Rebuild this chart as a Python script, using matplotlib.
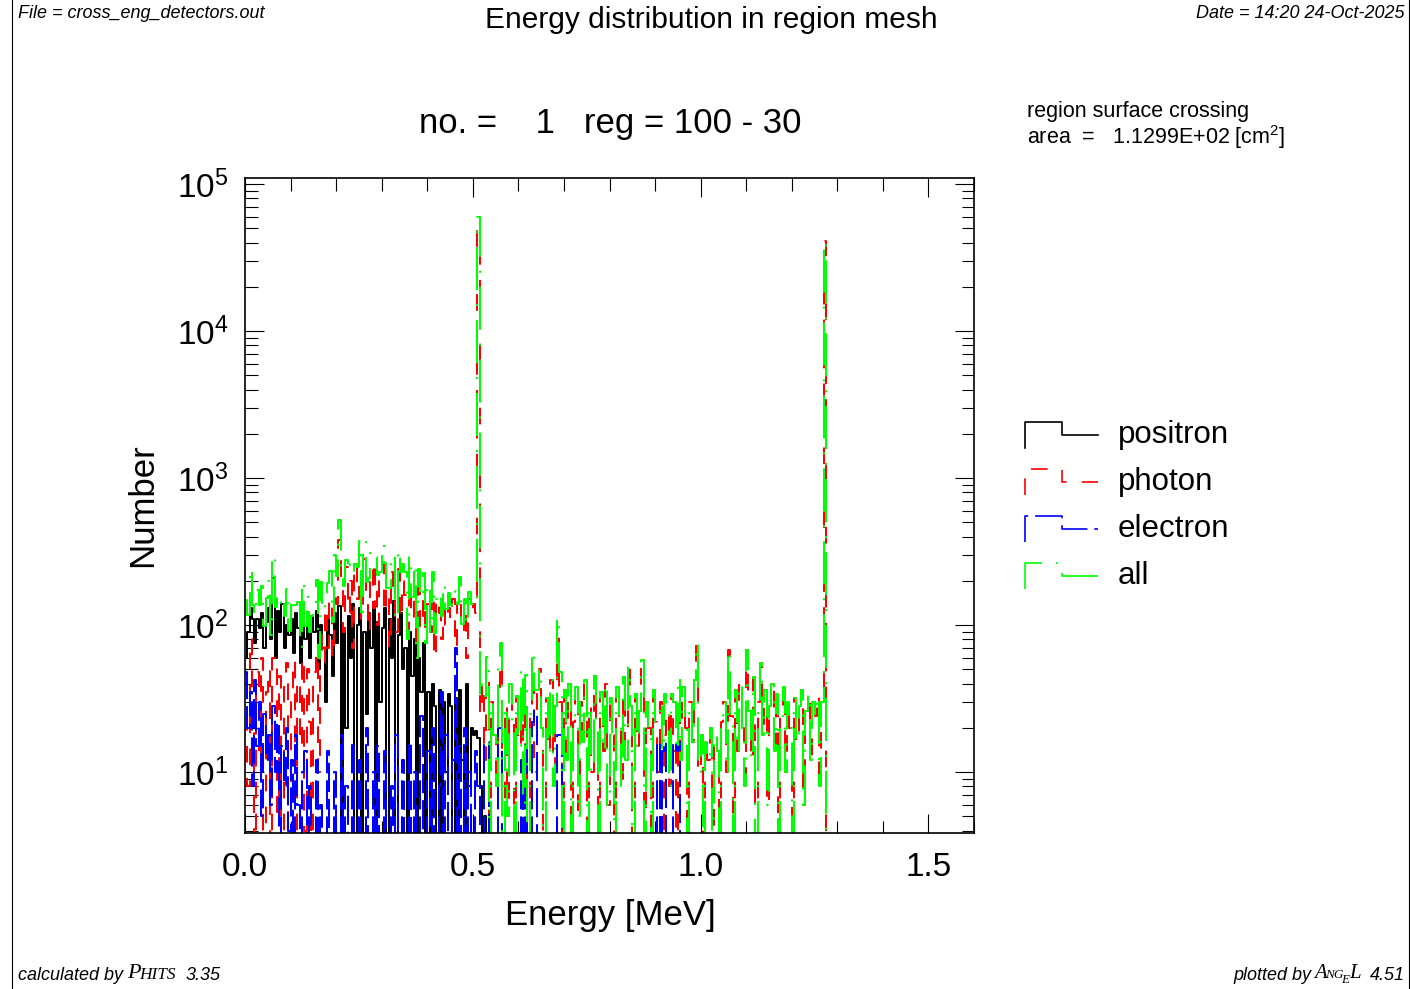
import matplotlib
matplotlib.use("Agg")
import matplotlib.pyplot as plt
import numpy as np
from matplotlib.ticker import FixedLocator, MultipleLocator, LogLocator, NullFormatter

plt.rcParams["font.family"] = ["Liberation Sans", "DejaVu Sans"]
plt.rcParams["mathtext.fontset"] = "custom"
plt.rcParams["mathtext.rm"] = "Liberation Sans"
plt.rcParams["mathtext.it"] = "Liberation Sans:italic"
plt.rcParams["lines.scale_dashes"] = False

# energy bins: 0 - 1.28 MeV, 0.005 MeV wide
BIN_WIDTH = 0.005
N_BINS = 256
edges = np.arange(N_BINS + 1) * BIN_WIDTH

# counts per bin (one row = 0.05 MeV)
positron = [
    60, 90, 130, 110, 75, 110, 95, 120, 70, 105,
    130, 80, 210, 60, 125, 90, 140, 70, 100, 85,
    110, 65, 120, 95, 55, 130, 80, 105, 60, 115,
    90, 125, 50, 100, 70, 30, 110, 85, 45, 120,
    75, 135, 0, 95, 20, 115, 60, 140, 0, 100,
    130, 0, 90, 25, 120, 70, 140, 0, 105, 30,
    95, 130, 0, 110, 60, 145, 0, 85, 120, 50,
    70, 0, 90, 45, 80, 0, 60, 35, 75, 0,
    35, 0, 40, 28, 0, 36, 0, 30, 10, 34,
    28, 0, 32, 0, 36, 12, 0, 40, 8, 20,
    18, 19, 17, 8, 0, 5, 0, 0, 0, 0,
] + [0] * 146

photon = [
    40, 8, 80, 20, 0, 48, 12, 60, 3, 35,
    50, 0, 60, 62, 5, 45, 0, 38, 55, 2,
    30, 58, 0, 42, 15, 60, 4, 50, 22, 0,
    48, 65, 10, 90, 55, 130, 70, 150, 60, 170,
    140, 380, 210, 90, 250, 120, 200, 70, 260, 150,
    230, 110, 280, 150, 90, 240, 130, 290, 100, 200,
    260, 120, 180, 70, 230, 150, 90, 240, 110, 200,
    160, 80, 190, 110, 170, 60, 180, 95, 150, 75,
    140, 90, 170, 60, 150, 120, 80, 160, 100, 130,
    110, 150, 70, 140, 160, 90, 130, 60, 150, 120,
    140, 120, 60000, 25, 40, 12, 45, 0, 30, 18,
    8, 35, 55, 0, 28, 5, 40, 22, 0, 33,
    15, 38, 6, 30, 0, 25, 45, 10, 36, 50,
    20, 0, 32, 14, 42, 8, 28, 95, 30, 0,
    36, 12, 40, 0, 22, 38, 5, 30, 16, 42,
    0, 28, 10, 45, 20, 0, 35, 14, 40, 6,
    32, 18, 0, 38, 24, 8, 44, 12, 52, 28,
    0, 34, 15, 26, 58, 4, 30, 20, 0, 36,
    22, 10, 30, 0, 18, 26, 8, 34, 14, 0,
    28, 12, 38, 20, 0, 30, 16, 42, 75, 10,
    18, 0, 16, 12, 20, 4, 18, 14, 0, 22,
    30, 10, 68, 24, 0, 36, 14, 40, 20, 8,
    68, 26, 12, 44, 0, 30, 55, 18, 36, 6,
    28, 40, 14, 34, 0, 24, 38, 10, 30, 20,
    0, 32, 16, 28, 36, 6, 26, 34, 12, 30,
    24, 33, 8, 30, 41000, 0,
]

electron = [
    48, 20, 35, 8, 42, 15, 30, 5, 25, 12,
    18, 6, 28, 10, 22, 0, 15, 8, 20, 4,
    12, 0, 18, 6, 0, 10, 14, 0, 8, 0,
    0, 12, 0, 6, 0, 0, 14, 0, 0, 10,
    0, 0, 18, 0, 8, 0, 0, 16, 0, 0,
    12, 0, 0, 20, 0, 0, 10, 0, 15, 0,
    0, 14, 0, 0, 8, 0, 18, 0, 0, 12,
    0, 0, 16, 0, 10, 0, 0, 24, 0, 0,
    14, 0, 20, 0, 0, 8, 35, 0, 18, 0,
    0, 12, 70, 0, 15, 0, 20, 0, 10, 0,
    0, 14, 8, 0, 0, 16, 16, 0, 0, 0,
    0, 20, 20, 0, 0, 0, 0, 0, 0, 0,
    0, 12, 0, 16, 0, 0, 22, 26, 0, 0,
    0, 0, 0, 0, 0, 0, 0, 18, 18, 0,
] + [0] * 40 + [
    0, 16, 0, 14, 16, 0, 0, 0, 16, 14,
    16,
] + [0] * 65

positron = np.array(positron, dtype=float)
photon = np.array(photon, dtype=float)
electron = np.array(electron, dtype=float)
total = positron + photon + electron

series = [
    ("positron", positron, "black", None),
    ("photon", photon, "#ff0000", (0, (12, 11))),
    ("electron", electron, "#0000ff", (0, (21, 5))),
    ("all", total, "#00ff00", (0, (31, 10, 1.5, 10))),
]

fig = plt.figure(figsize=(14.10, 9.89), dpi=100)

# overlay in pixel coordinates for the page texts and the legend
ov = fig.add_axes([0, 0, 1, 1])
ov.set_xlim(0, 1410)
ov.set_ylim(989, 0)
ov.axis("off")
ov.plot([11.5, 11.5], [0, 989], color="black", lw=0.8)
ov.plot([1408.5, 1408.5], [0, 989], color="black", lw=0.8)

ax = fig.add_axes([245 / 1410, (989 - 833) / 989, 729 / 1410, 655 / 989])
for name, vals, color, ls in series:
    y = np.clip(vals, 0.3, None)
    y = np.append(y, y[-1])
    kw = dict(color=color, lw=1.45)
    if ls is not None:
        kw["linestyle"] = ls
    ax.step(edges, y, where="post", **kw)

ax.set_yscale("log")
ax.set_xlim(0, 1.6)
ax.set_ylim(3.85, 1.1e5)
ax.xaxis.set_major_locator(FixedLocator([0.0, 0.5, 1.0, 1.5]))
ax.set_xticklabels(["0.0", "0.5", "1.0", "1.5"])
ax.xaxis.set_minor_locator(MultipleLocator(0.1))
ax.yaxis.set_major_locator(LogLocator(base=10, numticks=10))
ax.yaxis.set_minor_locator(LogLocator(base=10, subs=range(2, 10), numticks=20))
ax.yaxis.set_minor_formatter(NullFormatter())
ax.tick_params(which="both", direction="in", top=True, right=True, width=0.8)
ax.tick_params(which="major", length=14, labelsize=24)
ax.tick_params(axis="x", which="major", pad=14)
ax.tick_params(axis="y", which="major", pad=12)
ax.tick_params(which="minor", length=9)
for sp in ax.spines.values():
    sp.set_linewidth(1.2)

# page texts
ov.text(18, 13, "File = cross_eng_detectors.out", style="italic", fontsize=13,
        ha="left", va="center")
ov.text(1405, 13, "Date = 14:20 24-Oct-2025", style="italic", fontsize=13,
        ha="right", va="center")
ov.text(711, 20, "Energy distribution in region mesh", fontsize=21.5,
        ha="center", va="center")
ov.text(610, 124, "no. =    1   reg = 100 - 30", fontsize=25,
        ha="center", va="center")
ov.text(1027, 111, "region surface crossing", fontsize=15.5, ha="left", va="center")
ov.text(1027, 137, "area  =   1.1299E+02 [cm$^2$]", fontsize=15.5,
        ha="left", va="center")
ov.text(610, 916, "Energy [MeV]", fontsize=25, ha="center", va="center")
ov.text(143, 505, "Number", fontsize=25, rotation=90, ha="center", va="center")

# legend drawn as small step shapes
for k, (name, vals, color, ls) in enumerate(series):
    y0 = 422 + 47 * k
    kw = dict(color=color, lw=1.2)
    if ls is not None:
        kw["linestyle"] = ls
    ov.plot([1025, 1025, 1062, 1062, 1098], [y0 + 26, y0, y0, y0 + 13, y0 + 13], **kw)
    ov.text(1118, y0 + 13, name, fontsize=22.5, ha="left", va="center")

# footer
ov.text(18, 975, "calculated by", style="italic", fontsize=13, ha="left", va="center")
ov.text(127, 974, "P", family="Liberation Serif", style="italic", fontsize=16,
        ha="left", va="center")
ov.text(139, 975, "HITS", family="Liberation Serif", style="italic", fontsize=12.5,
        ha="left", va="center")
ov.text(186, 975, "3.35", style="italic", fontsize=13, ha="left", va="center")

ov.text(1311, 975, "plotted by", style="italic", fontsize=13, ha="right", va="center")
ov.text(1314, 974, "A", family="Liberation Serif", style="italic", fontsize=15,
        ha="left", va="center")
ov.text(1325, 975, "NG", family="Liberation Serif", style="italic", fontsize=9.5,
        ha="left", va="center")
ov.text(1341, 980, "E", family="Liberation Serif", style="italic", fontsize=9.5,
        ha="left", va="center")
ov.text(1349, 974, "L", family="Liberation Serif", style="italic", fontsize=15,
        ha="left", va="center")
ov.text(1405, 975, "4.51", style="italic", fontsize=13, ha="right", va="center")

fig.savefig("out.png", dpi=100)
